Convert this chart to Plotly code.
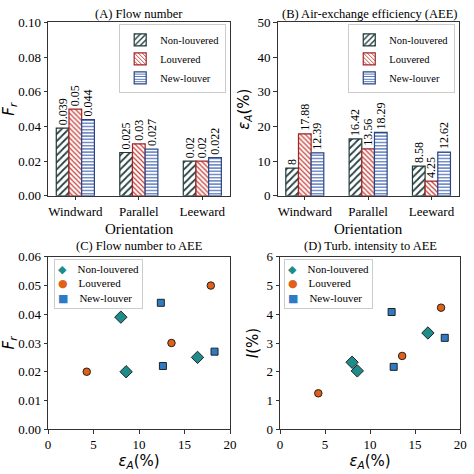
import plotly.graph_objects as go

orientations = ["Windward", "Parallel", "Leeward"]
series = ["Non-louvered", "Louvered", "New-louver"]

flow_number = {
    "Non-louvered": [0.039, 0.025, 0.02],
    "Louvered": [0.05, 0.03, 0.02],
    "New-louver": [0.044, 0.027, 0.022],
}
aee = {
    "Non-louvered": [8, 16.42, 8.58],
    "Louvered": [17.88, 13.56, 4.25],
    "New-louver": [12.39, 18.29, 12.62],
}
turb = {
    "Non-louvered": [2.33, 3.35, 2.03],
    "Louvered": [4.23, 2.55, 1.25],
    "New-louver": [4.08, 3.18, 2.17],
}

SERIF = "Liberation Serif, Times New Roman, serif"
MATH = "DejaVu Sans, sans-serif"

bar_style = {
    "Non-louvered": dict(shape="/", fg="#263f3f", bg="white", line="#1f3a3a", size=5),
    "Louvered": dict(shape="\\", fg="#c8403a", bg="white", line="#a02525", size=3.5),
    "New-louver": dict(shape="-", fg="#3a5fb0", bg="white", line="#2a4585", size=3.2),
}
scat_style = {
    "Non-louvered": dict(symbol="diamond", glyph="◆", color="#1f8c8c", size=9.5),
    "Louvered": dict(symbol="circle", glyph="●", color="#e0601a", size=7.5),
    "New-louver": dict(symbol="square", glyph="■", color="#2e7bc4", size=7),
}

fig = go.Figure()

for ax, data, leg in [("", flow_number, "legend"), ("2", aee, "legend2")]:
    for s in series:
        st = bar_style[s]
        fig.add_trace(go.Bar(
            x=orientations, y=data[s], name=s,
            xaxis="x" + ax, yaxis="y" + ax, legend=leg,
            marker=dict(color="white", line=dict(color=st["line"], width=1.2),
                        pattern=dict(shape=st["shape"], fgcolor=st["fg"], bgcolor=st["bg"],
                                     size=st["size"], solidity=0.35, fillmode="replace")),
            text=[f"{v:g}" for v in data[s]], textposition="outside", textangle=-90,
            constraintext="none", cliponaxis=False,
            textfont=dict(family=SERIF, size=12, color="black"),
        ))

for ax, ydata in [("3", flow_number), ("4", turb)]:
    for s in series:
        st = scat_style[s]
        fig.add_trace(go.Scatter(
            x=aee[s], y=ydata[s], name=s, mode="markers", showlegend=False,
            xaxis="x" + ax, yaxis="y" + ax,
            marker=dict(symbol=st["symbol"], color=st["color"], size=st["size"],
                        line=dict(color="#222222", width=1)),
        ))

axis_common = dict(showline=True, linecolor="#333333", linewidth=1, mirror=True,
                   ticks="outside", ticklen=3.5, tickcolor="#333333", showgrid=False,
                   zeroline=False, tickfont=dict(family=SERIF, size=13, color="black"))

math_font = dict(family=MATH, size=15, color="black")

yA = [1 - 195 / 474, 1 - 16 / 474]
yC = [1 - 436 / 474, 1 - 258 / 474]

fig.update_layout(
    width=474, height=474, margin=dict(l=0, r=0, t=0, b=0),
    paper_bgcolor="white", plot_bgcolor="white",
    barmode="group", bargap=0.4, bargroupgap=0,
    font=dict(family=SERIF, size=12, color="black"),
    xaxis=dict(domain=[46 / 474, 231.5 / 474], anchor="y", range=[-0.43, 2.43], **axis_common),
    yaxis=dict(domain=yA, anchor="x", range=[0, 0.10], dtick=0.02, tickformat=".2f",
               title=dict(text="<i>F<sub>r</sub></i>", font=math_font, standoff=4),
               **axis_common),
    xaxis2=dict(domain=[280.5 / 474, 465.5 / 474], anchor="y2", range=[-0.43, 2.43], **axis_common),
    yaxis2=dict(domain=yA, anchor="x2", range=[0, 50], dtick=10,
                title=dict(text="<i>ε</i><sub><i>A</i></sub>(%)", font=math_font, standoff=4),
                **axis_common),
    xaxis3=dict(domain=[46 / 474, 232 / 474], anchor="y3", range=[0, 20], dtick=5,
                title=dict(text="<i>ε</i><sub><i>A</i></sub>(%)", font=math_font, standoff=0),
                **axis_common),
    yaxis3=dict(domain=yC, anchor="x3", range=[0, 0.06], dtick=0.01, tickformat=".2f",
                title=dict(text="<i>F<sub>r</sub></i>", font=math_font, standoff=4),
                **axis_common),
    xaxis4=dict(domain=[283 / 474, 467 / 474], anchor="y4", range=[0, 20], dtick=5,
                title=dict(text="<i>ε</i><sub><i>A</i></sub>(%)", font=math_font, standoff=0),
                **axis_common),
    yaxis4=dict(domain=yC, anchor="x4", range=[0, 6], dtick=1,
                title=dict(text="<i>I</i>(%)", font=math_font, standoff=4),
                **axis_common),
)

leg_common = dict(bordercolor="#cccccc", borderwidth=1, bgcolor="rgba(255,255,255,0.9)",
                  font=dict(family=SERIF, size=10.5, color="black"), tracegroupgap=0)
fig.update_layout(
    legend=dict(x=228 / 474, y=1 - 18 / 474, xanchor="right", yanchor="top", **leg_common),
    legend2=dict(x=462 / 474, y=1 - 18 / 474, xanchor="right", yanchor="top", **leg_common),
)

# compact legends for the scatter panels (rows as in the reference)
legend_text = "<br>".join(
    f"<span style='color:{scat_style[s]['color']};font-family:DejaVu Sans;font-size:11px'>"
    f"{scat_style[s]['glyph']}</span>&nbsp;&nbsp;&nbsp;&nbsp;{s}"
    for s in series
)
for x0 in (52, 287):
    fig.add_annotation(text=legend_text, x=x0 / 474, y=1 - 260.5 / 474, xref="paper", yref="paper",
                       showarrow=False, xanchor="left", yanchor="top", align="left",
                       bordercolor="#cccccc", borderwidth=1, borderpad=3,
                       bgcolor="rgba(255,255,255,0.9)",
                       font=dict(family=SERIF, size=11, color="black"))

# x-axis titles of the bar panels
for x in (139, 373):
    fig.add_annotation(text="Orientation", x=x / 474, y=1 - 229 / 474, xref="paper", yref="paper",
                       showarrow=False, xanchor="center", yanchor="middle",
                       font=dict(family=SERIF, size=15, color="black"))

titles = [
    ("(A) Flow number", 139, 7),
    ("(B) Air-exchange efficiency (AEE)", 374, 7),
    ("(C) Flow number to AEE", 139, 247),
    ("(D) Turb. intensity to AEE", 375, 247),
]
for t, x, y in titles:
    fig.add_annotation(text=t, x=x / 474, y=1 - y / 474, xref="paper", yref="paper",
                       showarrow=False, xanchor="center", yanchor="middle",
                       font=dict(family=SERIF, size=12.5, color="black"))

fig.write_html("out.html")
